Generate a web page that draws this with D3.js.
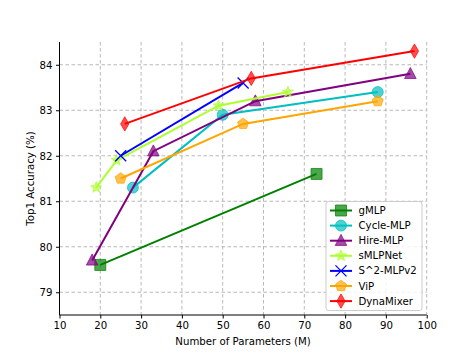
<!DOCTYPE html>
<html><head><meta charset="utf-8">
<script src="https://cdn.jsdelivr.net/npm/d3@7"></script>
<style>body{margin:0;background:#fff;}svg{display:block;font-family:"DejaVu Sans",sans-serif;}</style>
</head><body><svg id="c" width="474" height="355"></svg>
<script>
const seriesNames = ["gMLP","Cycle-MLP","Hire-MLP","sMLPNet","S^2-MLPv2","ViP","DynaMixer"];
const gMLP_x = [20,73], gMLP_y = [79.6,81.6];
const cycle_x = [28,50,88], cycle_y = [81.3,82.9,83.4];
const hire_x = [18,33,58,96], hire_y = [79.7,82.1,83.2,83.8];
const smlp_x = [19,24,49,66], smlp_y = [81.3,81.9,83.1,83.4];
const s2_x = [25,55], s2_y = [82.0,83.6];
const vip_x = [25,55,88], vip_y = [81.5,82.7,83.2];
const dyna_x = [26,57,97], dyna_y = [82.7,83.7,84.3];
const xTicks = [10,20,30,40,50,60,70,80,90,100];
const yTicks = [79,80,81,82,83,84];

const colors = ["#008000","#00bfbf","#800080","#adff2f","#0000ff","#ffa500","#ff0000"];
const markerTypes = ["square","circle","triangle","star","x","pentagon","diamond"];
const xs = [gMLP_x,cycle_x,hire_x,smlp_x,s2_x,vip_x,dyna_x];
const ys = [gMLP_y,cycle_y,hire_y,smlp_y,s2_y,vip_y,dyna_y];

const svg = d3.select("#c");
const L=59.5,R=426.7,T=42,B=315;
const x = d3.scaleLinear().domain([10,100]).range([L,R]);
const y = d3.scaleLinear().domain([78.5,84.5]).range([B,T]);

// grid
const g = svg.append("g");
g.selectAll(".vg").data(xTicks).enter().append("line")
 .attr("x1",d=>x(d)).attr("x2",d=>x(d)).attr("y1",T).attr("y2",B)
 .attr("stroke","#b0b0b0").attr("stroke-width",0.9).attr("stroke-dasharray","3.5,2.5");
g.selectAll(".hg").data(yTicks).enter().append("line")
 .attr("x1",L).attr("x2",R).attr("y1",d=>y(d)).attr("y2",d=>y(d))
 .attr("stroke","#b0b0b0").attr("stroke-width",0.9).attr("stroke-dasharray","3.5,2.5");

// axes
const xAxis = d3.axisBottom(x).tickValues(xTicks).tickFormat(d3.format("d")).tickSize(3.5).tickPadding(3.5);
const yAxis = d3.axisLeft(y).tickValues(yTicks).tickFormat(d3.format("d")).tickSize(3.5).tickPadding(3.5);
const gx = svg.append("g").attr("transform",`translate(0,${B})`).call(xAxis);
const gy = svg.append("g").attr("transform",`translate(${L},0)`).call(yAxis);
[gx,gy].forEach(a=>{
  a.select(".domain").attr("stroke","#000").attr("stroke-width",1);
  a.selectAll("text").attr("font-size",10.2).attr("fill","#000").attr("font-family","DejaVu Sans");
  a.selectAll(".tick line").attr("stroke","#000");
});
gx.select(".domain").attr("d",`M${L},0H${R}`);
gy.select(".domain").attr("d",`M0,${T}V${B}`);

svg.append("text").attr("x",(L+R)/2).attr("y",345).attr("text-anchor","middle")
 .attr("font-size",10.2).text("Number of Parameters (M)");
svg.append("text").attr("transform",`translate(34,${(T+B)/2}) rotate(-90)`).attr("text-anchor","middle")
 .attr("font-size",10.2).text("Top1 Accuracy (%)");

function markerPath(type){
  const s=5.5;
  switch(type){
    case "square": return `M${-s},${-s}H${s}V${s}H${-s}Z`;
    case "circle": return d3.symbol(d3.symbolCircle, Math.PI*s*s)();
    case "triangle": return `M0,${-s*1.15}L${s*1.05},${s*0.85}L${-s*1.05},${s*0.85}Z`;
    case "star": {
      let p=[];for(let i=0;i<10;i++){const r=i%2?s*0.45:s*1.05;const a=-Math.PI/2+i*Math.PI/5;p.push([r*Math.cos(a),r*Math.sin(a)]);}
      return "M"+p.map(q=>q.join(",")).join("L")+"Z";}
    case "x": return `M${-s},${-s}L${s},${s}M${-s},${s}L${s},${-s}`;
    case "pentagon": {
      let p=[];for(let i=0;i<5;i++){const a=-Math.PI/2+i*2*Math.PI/5;p.push([s*1.05*Math.cos(a),s*1.05*Math.sin(a)]);}
      return "M"+p.map(q=>q.join(",")).join("L")+"Z";}
    case "diamond": return `M0,${-s*1.3}L${s*0.75},0L0,${s*1.3}L${-s*0.75},0Z`;
  }
}
function drawMarker(sel,type,color,px,py){
  const p = sel.append("path").attr("d",markerPath(type)).attr("transform",`translate(${px},${py})`);
  if(type==="x") p.attr("fill","none").attr("stroke",color).attr("stroke-width",1.3);
  else p.attr("fill",color).attr("fill-opacity",0.7).attr("stroke",color).attr("stroke-opacity",0.7).attr("stroke-width",1);
}

const line = d3.line().x(d=>x(d[0])).y(d=>y(d[1]));
const plot = svg.append("g");
seriesNames.forEach((n,i)=>{
  const pts = xs[i].map((v,j)=>[v,ys[i][j]]);
  plot.append("path").datum(pts).attr("d",line).attr("fill","none").attr("stroke",colors[i]).attr("stroke-width",2);
  pts.forEach(p=>drawMarker(plot,markerTypes[i],colors[i],x(p[0]),y(p[1])));
});

// legend
const lg = svg.append("g");
lg.append("rect").attr("x",326).attr("y",201.5).attr("width",96).attr("height",109).attr("rx",2.5)
 .attr("fill","#fff").attr("fill-opacity",0.8).attr("stroke","#cccccc").attr("stroke-width",1);
seriesNames.forEach((n,i)=>{
  const yy = 210.5 + i*15.1;
  lg.append("line").attr("x1",330).attr("x2",352).attr("y1",yy).attr("y2",yy).attr("stroke",colors[i]).attr("stroke-width",2);
  drawMarker(lg,markerTypes[i],colors[i],341,yy);
  lg.append("text").attr("x",358.5).attr("y",yy).attr("dy","0.35em").attr("font-size",10.2).text(n);
});
</script></body></html>
